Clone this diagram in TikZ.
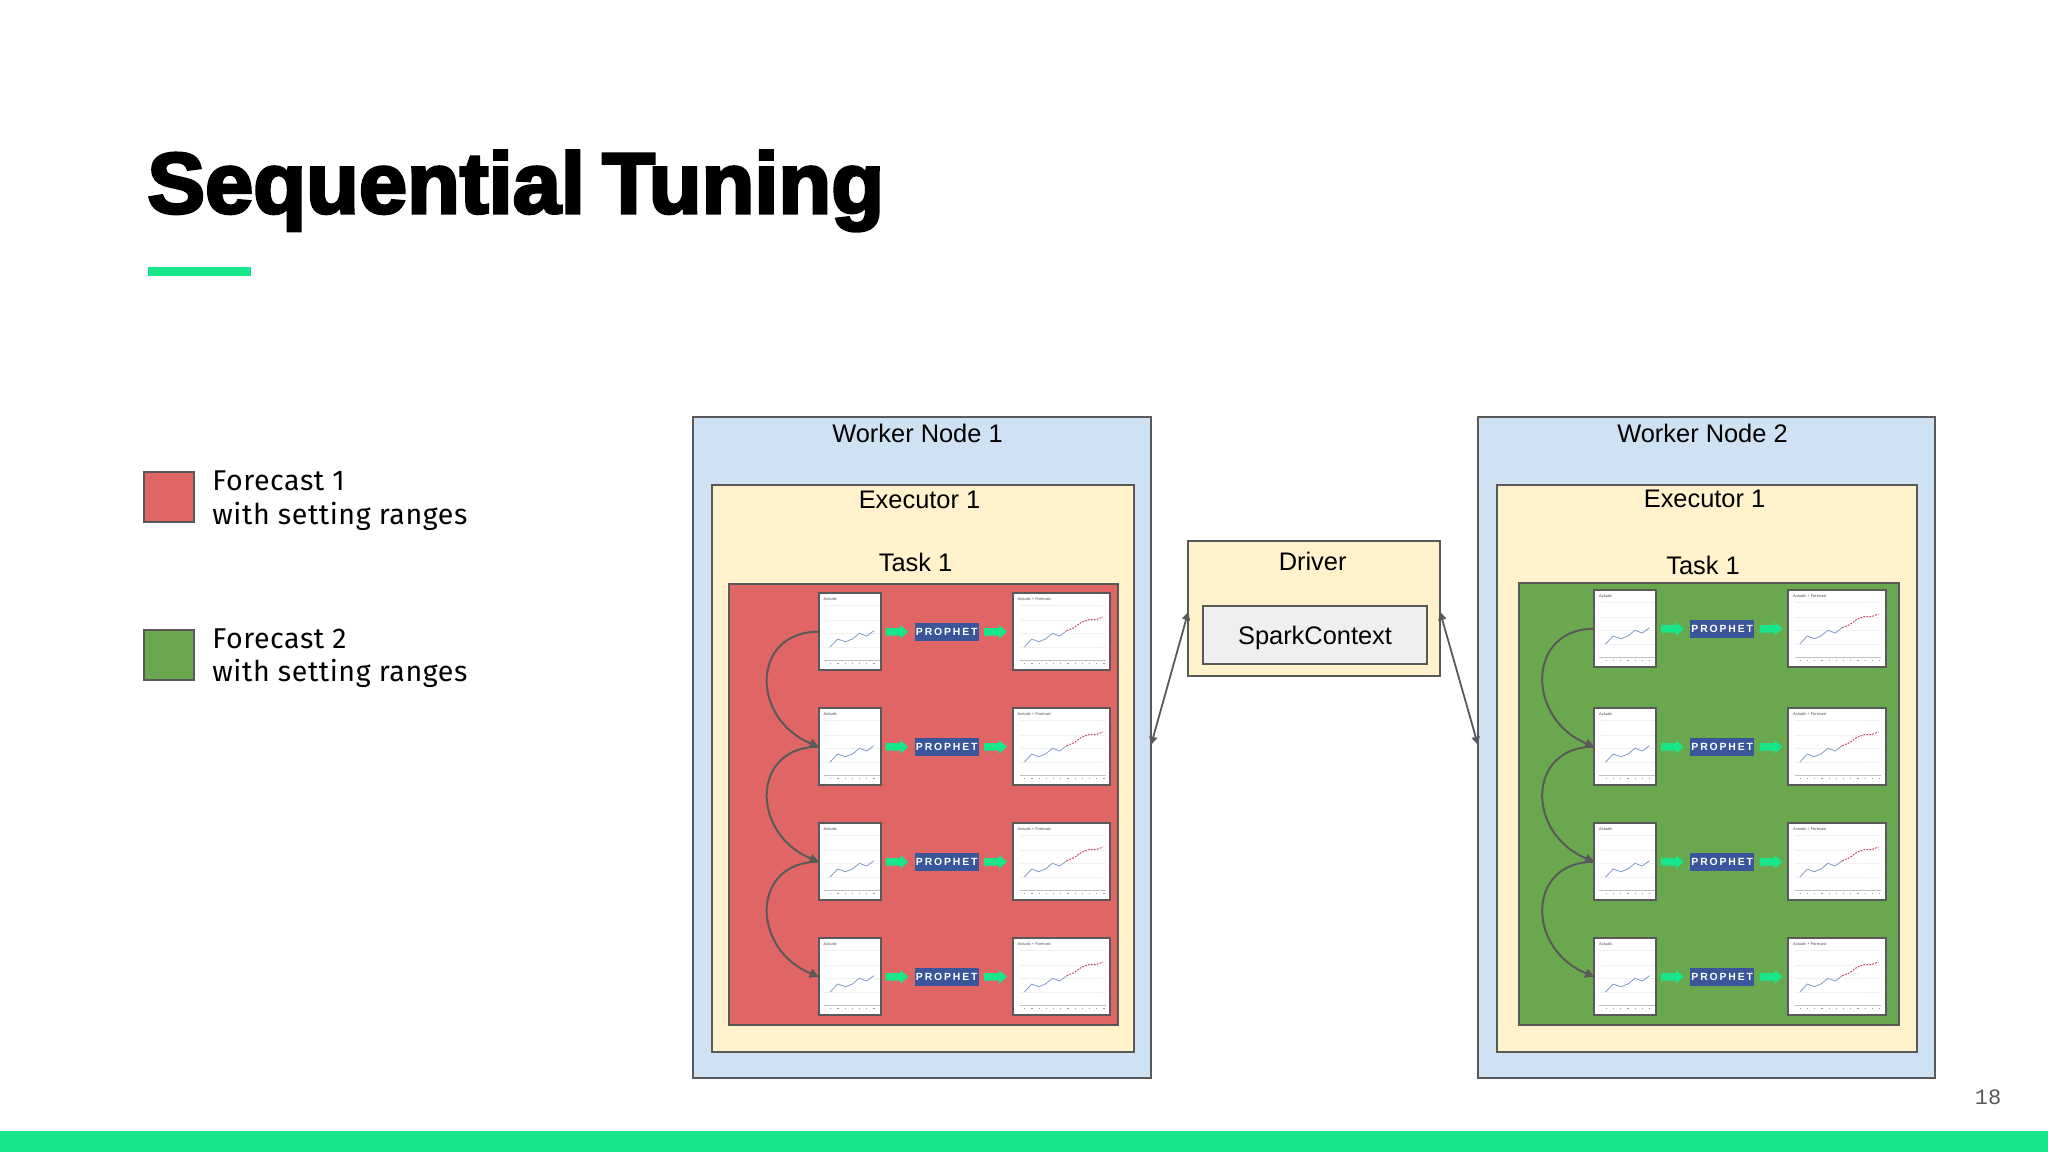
\documentclass[tikz,border=0pt]{standalone}
\usepackage{fontspec}
\setmainfont{Liberation Sans}
\newfontfamily\titlefont[BoldFeatures={FakeBold=3.5,FakeStretch=1.006},WordSpace=0.72]{Liberation Sans}
\newfontfamily\legendfont[LetterSpace=2]{Fira Sans}
\newfontfamily\pagefont{Liberation Mono}
\newfontfamily\prophetfont[LetterSpace=18]{Liberation Sans}
\usetikzlibrary{arrows.meta}
\definecolor{edgegray}{HTML}{595959}
\definecolor{workerblue}{HTML}{CFE2F3}
\definecolor{execyellow}{HTML}{FFF2CC}
\definecolor{taskred}{HTML}{E06666}
\definecolor{taskgreen}{HTML}{6AA84F}
\definecolor{sparkgray}{HTML}{EFEFEF}
\definecolor{slidegreen}{HTML}{18E68A}
\definecolor{prophetblue}{HTML}{3A5599}
\definecolor{actualblue}{HTML}{7F9CC8}
\definecolor{forecastred}{HTML}{C2476B}
\tikzset{
    box/.style={draw=edgegray,line width=1pt,inner sep=0pt,outer sep=0pt,anchor=north west},
    boxtext/.style={font=\fontsize{12.7}{15}\selectfont,inner sep=0pt},
    legendtext/.style={font=\legendfont\fontsize{14.3}{16.7}\selectfont,align=left,anchor=west,inner sep=0pt},
    chartbox/.style={draw=edgegray,line width=1pt,fill=white,inner sep=0pt,outer sep=0pt,anchor=north west,minimum height=38.7pt},
    prophetbox/.style={fill=prophetblue,text=white,inner sep=0pt,outer sep=0pt,minimum width=32pt,minimum height=9pt,font=\prophetfont\bfseries\fontsize{5.2}{5.2}\selectfont},
    charttext/.style={font=\fontsize{2}{2}\selectfont,text=black!70,inner sep=0pt,anchor=west},
    flow/.style={draw=slidegreen,line width=3.8pt,-{Triangle[length=4pt,width=6.6pt]}},
    loopback/.style={draw=edgegray,line width=1pt,-{Triangle[length=4.5pt,width=4.5pt]}},
    link/.style={draw=edgegray,line width=.9pt,{Triangle[length=4.2pt,width=4pt]}-{Triangle[length=4.2pt,width=4pt]}},
}
% one row of a task: actuals, prophet, actuals + forecast
\newcommand{\taskrow}[3]{
    \node (act#1) [chartbox,minimum width=31pt] at (#2+818.7,#3) {};
    \node (pro#1) [prophetbox] at (#2+946.7,#3+39) {PROPHET};
    \node (fc#1) [chartbox,minimum width=48.7pt] at (#2+1012.7,#3) {};
    \begin{scope}[shift={(act#1.north west)}]
        \foreach \g in {12.7,27.3,40.3,54}
            \draw [black!6,line width=.25pt] (5,\g) -- (61,\g);
        \draw [black!25,line width=.25pt] (5,67.7) -- (61,67.7);
        \foreach \t in {11.5,18.7,...,56}
            \draw [black!40,line width=.5pt] (\t,70.5) -- (\t+1.2,70.5);
        \node (actt#1) [charttext] at (4.5,6.5) {Actuals};
        \draw [actualblue,line width=.4pt] (11.3,54) -- (19,46) -- (26.7,48.7) -- (33.7,46) -- (40.7,40.3) -- (48,43) -- (55.3,37.7);
    \end{scope}
    \begin{scope}[shift={(fc#1.north west)}]
        \foreach \g in {12.7,27.3,40.3,54}
            \draw [black!6,line width=.25pt] (7,\g) -- (93,\g);
        \draw [black!25,line width=.25pt] (7,67.7) -- (93,67.7);
        \foreach \t in {11.5,18.7,...,91}
            \draw [black!40,line width=.5pt] (\t,70.5) -- (\t+1.2,70.5);
        \node (fct#1) [charttext] at (4.5,6.5) {Actuals + Forecast};
        \draw [actualblue,line width=.4pt] (11.7,54) -- (19,46) -- (26,48.7) -- (32.7,46) -- (39.7,40.3) -- (47,43) -- (54,37.7);
        \draw [forecastred,line width=.5pt,dash pattern=on .9pt off .6pt] (54,37.7) -- (61.3,34.7) -- (68.7,29.3) -- (75.7,26.7) -- (83,26.7) -- (90.3,24);
    \end{scope}
    \draw [flow,shorten <=2.5pt,shorten >=3.2pt] (act#1.east) -- (pro#1.west);
    \draw [flow,shorten <=2.7pt,shorten >=2.8pt] (pro#1.east) -- (fc#1.west);
}
\begin{document}
\begin{tikzpicture}[x=.5pt,y=-.5pt]
    \useasboundingbox [fill=white] (0,0) rectangle (2048,1152);
    % slide furniture
    \node (title) [anchor=base west,inner sep=0pt,font=\titlefont\bfseries\fontsize{43}{43}\selectfont] at (147,213) {Sequential Tuning};
    \fill [slidegreen] (147.5,266.5) rectangle (250.5,275.5);
    \fill [slidegreen] (0,1131) rectangle (2048,1152);
    \node (pagenum) [font=\pagefont\fontsize{11}{11}\selectfont,text=edgegray,inner sep=0pt] at (1988,1097) {18};
    % legend
    \node (keyred) [box,fill=taskred,minimum width=25pt,minimum height=25pt] at (143.5,472.3) {};
    \node (keygreen) [box,fill=taskgreen,minimum width=25pt,minimum height=25pt] at (143.5,630) {};
    \node (keyredtext) [legendtext] at (212,500.5) {Forecast 1\\with setting ranges};
    \node (keygreentext) [legendtext] at (212,658) {Forecast 2\\with setting ranges};
    % worker 1
    \node (worker1) [box,fill=workerblue,minimum width=229pt,minimum height=330.5pt] at (693,416.5) {};
    \node (exec1) [box,fill=execyellow,minimum width=211pt,minimum height=283.75pt] at (712,484.5) {};
    \node (task1) [box,fill=taskred,minimum width=194.5pt,minimum height=220.3pt] at (729,584) {};
    \node (worker1text) [boxtext] at (917.5,433.6) {Worker Node 1};
    \node (exec1text) [boxtext] at (919.5,500) {Executor 1};
    \node (task1text) [boxtext] at (915.5,562.5) {Task 1};
    \foreach \r/\y in {1/593,2/708,3/823,4/938}
        \taskrow{a\r}{0}{\y}
    % worker 2
    \node (worker2) [box,fill=workerblue,minimum width=228.25pt,minimum height=330.5pt] at (1478,416.5) {};
    \node (exec2) [box,fill=execyellow,minimum width=210pt,minimum height=283.75pt] at (1497,484.5) {};
    \node (task2) [box,fill=taskgreen,minimum width=190pt,minimum height=221pt] at (1519,582.5) {};
    \node (worker2text) [boxtext] at (1702.5,433.6) {Worker Node 2};
    \node (exec2text) [boxtext] at (1704.5,499) {Executor 1};
    \node (task2text) [boxtext] at (1703,565.5) {Task 1};
    \foreach \r/\y in {1/590,2/708,3/823,4/938}
        \taskrow{b\r}{775.5}{\y}
    % driver
    \node (driver) [box,fill=execyellow,minimum width=125.85pt,minimum height=67.2pt] at (1188.3,541.3) {};
    \node (spark) [box,fill=sparkgray,minimum width=111.7pt,minimum height=29.2pt] at (1203.3,605.7) {};
    \node (drivertext) [boxtext] at (1312.6,561.5) {Driver};
    \node (sparktext) [boxtext] at (1315,638) {SparkContext};
    % back to the next row
    \foreach \u/\v in {a1/a2,a2/a3,a3/a4,b1/b2,b2/b3,b3/b4}
        \draw [loopback] (act\u.west) .. controls +(-68,0) and +(-68,-28) .. (act\v.west);
    \draw [link] ([yshift=-1.6pt]driver.west) -- ([yshift=1pt]worker1.east);
    \draw [link] ([yshift=-1.6pt]driver.east) -- ([yshift=1pt]worker2.west);
\end{tikzpicture}
\end{document}
